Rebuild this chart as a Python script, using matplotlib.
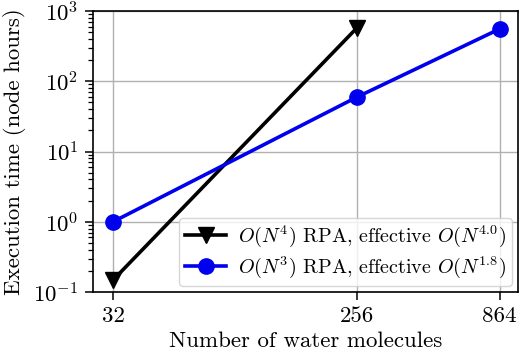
import numpy as np
import matplotlib
matplotlib.use("Agg")
import matplotlib.pyplot as plt
from matplotlib.ticker import NullFormatter, NullLocator

# -----------------------------
# data
# -----------------------------
n_quartic = [32, 256]
t_quartic = [0.148, 575.0]

n_cubic = [32, 256, 864]
t_cubic = [1.0, 59.5, 555.0]

xtick_vals = [32, 256, 864]

label_quartic = r"$O(N^4)$ RPA, effective $O(N^{4.0})$"
label_cubic = r"$O(N^3)$ RPA, effective $O(N^{1.8})$"

# -----------------------------
# style
# -----------------------------
plt.rcParams["font.family"] = "serif"
plt.rcParams["font.serif"] = ["cmr10", "DejaVu Serif"]
plt.rcParams["mathtext.fontset"] = "cm"
plt.rcParams["axes.formatter.use_mathtext"] = True
plt.rcParams["font.size"] = 16.5

fig, ax = plt.subplots(figsize=(5.2, 3.54), dpi=100)

ax.plot(n_quartic, t_quartic, color="black", marker="v", lw=2.6,
        markersize=11, label=label_quartic)
ax.plot(n_cubic, t_cubic, color="#0000ee", marker="o", lw=2.6,
        markersize=11, label=label_cubic)

ax.set_xscale("log")
ax.set_yscale("log")
ax.set_xlim(27, 1010)
ax.set_ylim(0.1, 1000)

ax.set_xticks(xtick_vals)
ax.set_xticklabels([str(v) for v in xtick_vals])
ax.xaxis.set_minor_locator(NullLocator())
ax.xaxis.set_minor_formatter(NullFormatter())

ax.tick_params(which="major", length=5.5, width=1.1, pad=5)
ax.tick_params(which="minor", length=3.5, width=0.9)

ax.grid(True, which="major", color="#b0b0b0", lw=1.0)
ax.set_axisbelow(True)
for s in ax.spines.values():
    s.set_linewidth(1.2)

ax.set_xlabel("Number of water molecules", labelpad=4)
ax.set_ylabel("Execution time (node hours)", labelpad=5)

ax.legend(loc="lower right", fontsize=14.5, handlelength=2.0,
          borderpad=0.3, labelspacing=0.25, handletextpad=0.6,
          borderaxespad=0.3)

fig.subplots_adjust(left=0.179, right=0.996, top=0.969, bottom=0.175)
fig.savefig("out.png", dpi=100)
